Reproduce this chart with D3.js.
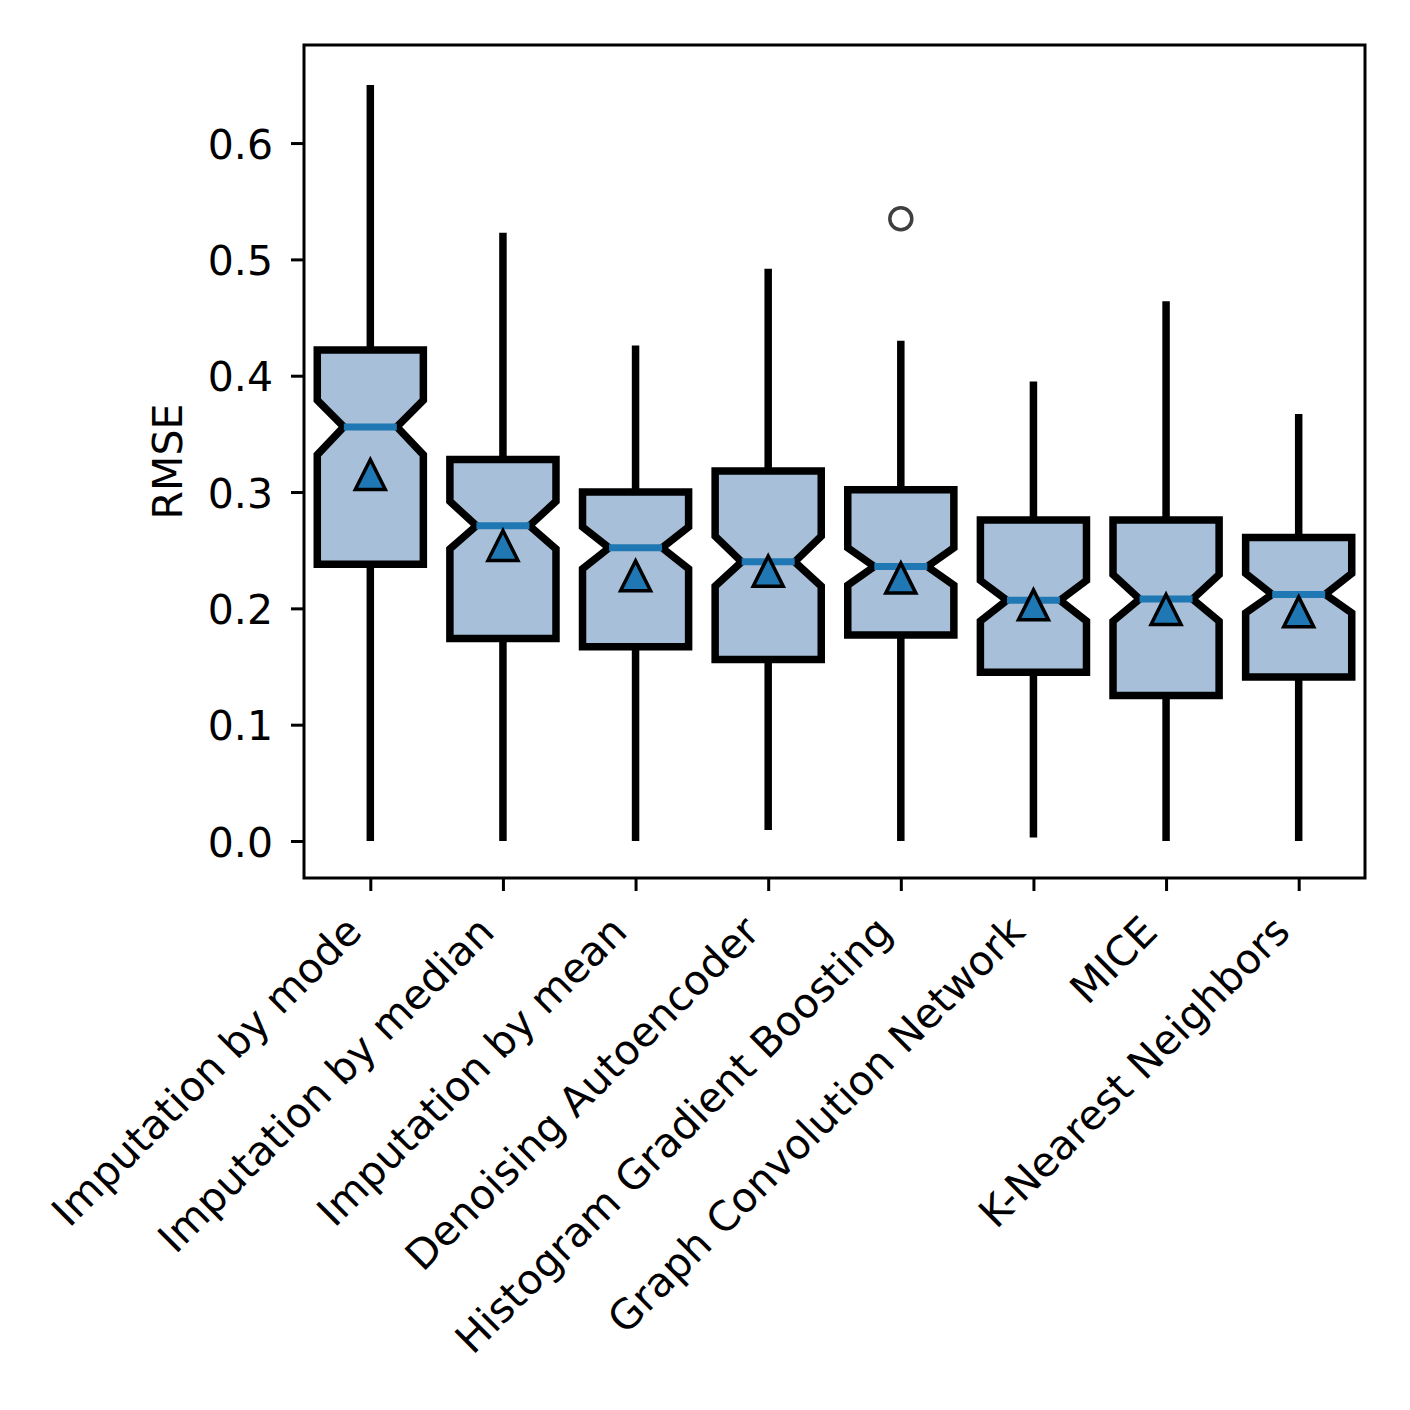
<!DOCTYPE html>
<html>
<head>
<meta charset="utf-8">
<script src="https://cdn.jsdelivr.net/npm/d3@7"></script>
<style>
  body { margin: 0; background: #fff; }
  text { font-family: "DejaVu Sans", sans-serif; fill: #000; }
</style>
</head>
<body>
<svg id="chart" width="1410" height="1410"></svg>
<script>
// values
const methods = [
  "Imputation by mode",
  "Imputation by median",
  "Imputation by mean",
  "Denoising Autoencoder",
  "Histogram Gradient Boosting",
  "Graph Convolution Network",
  "MICE",
  "K-Nearest Neighbors"
];
const q1      = [0.238, 0.174, 0.167, 0.156, 0.177, 0.145, 0.125, 0.141];
const q3      = [0.422, 0.328, 0.300, 0.318, 0.302, 0.276, 0.276, 0.261];
const medians = [0.356, 0.271, 0.252, 0.240, 0.236, 0.207, 0.208, 0.212];
const notchLo = [0.332, 0.251, 0.234, 0.219, 0.220, 0.189, 0.189, 0.196];
const notchHi = [0.379, 0.292, 0.270, 0.262, 0.252, 0.224, 0.229, 0.230];
const means   = [0.315, 0.254, 0.228, 0.232, 0.226, 0.203, 0.199, 0.197];
const whiskLo = [0.000, 0.000, 0.000, 0.0095, 0.000, 0.003, 0.000, 0.000];
const whiskHi = [0.650, 0.523, 0.426, 0.492, 0.430, 0.395, 0.464, 0.367];
const outliers = [[], [], [], [], [0.535], [], [], []];
const yTicks = [0.0, 0.1, 0.2, 0.3, 0.4, 0.5, 0.6];

const plotLeft = 304, plotRight = 1365, plotTop = 45, plotBottom = 878;
const boxWidth = 0.8;

const svg = d3.select("#chart");

const x = d3.scaleLinear().domain([0.5, methods.length + 0.5]).range([plotLeft, plotRight]);
const y = d3.scaleLinear().domain([-0.0318, 0.6843]).range([plotBottom, plotTop]);

const data = methods.map((m, i) => ({
  name: m, pos: i + 1,
  q1: q1[i], q3: q3[i], med: medians[i], nlo: notchLo[i], nhi: notchHi[i],
  mean: means[i], lo: whiskLo[i], hi: whiskHi[i], out: outliers[i]
}));

const g = svg.append("g");

// whiskers
g.selectAll(".whisk-lo").data(data).enter().append("line")
  .attr("x1", d => x(d.pos)).attr("x2", d => x(d.pos))
  .attr("y1", d => y(d.q1)).attr("y2", d => y(d.lo))
  .attr("stroke", "#000").attr("stroke-width", 7.5);
g.selectAll(".whisk-hi").data(data).enter().append("line")
  .attr("x1", d => x(d.pos)).attr("x2", d => x(d.pos))
  .attr("y1", d => y(d.q3)).attr("y2", d => y(d.hi))
  .attr("stroke", "#000").attr("stroke-width", 7.5);

// notched boxes
function notchPath(d) {
  const l = x(d.pos - boxWidth / 2), r = x(d.pos + boxWidth / 2);
  const nl = x(d.pos - boxWidth / 4), nr = x(d.pos + boxWidth / 4);
  const pts = [
    [l, y(d.q1)], [l, y(d.nlo)], [nl, y(d.med)], [l, y(d.nhi)], [l, y(d.q3)],
    [r, y(d.q3)], [r, y(d.nhi)], [nr, y(d.med)], [r, y(d.nlo)], [r, y(d.q1)]
  ];
  return "M" + pts.map(p => p.join(",")).join("L") + "Z";
}
g.selectAll(".box").data(data).enter().append("path")
  .attr("d", notchPath)
  .attr("fill", "#a7bfd8")
  .attr("stroke", "#000")
  .attr("stroke-width", 7.5)
  .attr("stroke-linejoin", "miter");

// medians
g.selectAll(".median").data(data).enter().append("line")
  .attr("x1", d => x(d.pos - boxWidth / 4)).attr("x2", d => x(d.pos + boxWidth / 4))
  .attr("y1", d => y(d.med)).attr("y2", d => y(d.med))
  .attr("stroke", "#1f77b4").attr("stroke-width", 7);

// means
g.selectAll(".mean").data(data).enter().append("path")
  .attr("d", "M0,-15L15,15L-15,15Z")
  .attr("transform", d => `translate(${x(d.pos)},${y(d.mean)})`)
  .attr("fill", "#1f77b4").attr("stroke", "#000").attr("stroke-width", 3.5)
  .attr("stroke-linejoin", "miter");

// fliers
const fl = data.flatMap(d => d.out.map(v => ({ pos: d.pos, v })));
g.selectAll(".flier").data(fl).enter().append("circle")
  .attr("cx", d => x(d.pos)).attr("cy", d => y(d.v)).attr("r", 11)
  .attr("fill", "none").attr("stroke", "#3f3f3f").attr("stroke-width", 3.5);

// axes
const yAxis = d3.axisLeft(y).tickValues(yTicks).tickFormat(d3.format(".1f"))
  .tickSize(13).tickPadding(18);
const ya = svg.append("g").attr("transform", `translate(${plotLeft},0)`).call(yAxis);
ya.select(".domain").remove();
ya.selectAll(".tick line").attr("stroke", "#000").attr("stroke-width", 3);
ya.selectAll(".tick text").attr("font-size", 41).attr("dy", "0.37em")
  .style("font-family", "DejaVu Sans");

const xAxis = d3.axisBottom(x).tickValues(data.map(d => d.pos))
  .tickFormat(p => methods[p - 1]).tickSize(13);
const xa = svg.append("g").attr("transform", `translate(0,${plotBottom})`).call(xAxis);
xa.select(".domain").remove();
xa.selectAll(".tick line").attr("stroke", "#000").attr("stroke-width", 3);
xa.selectAll(".tick text")
  .attr("font-size", 41).attr("x", 0).attr("y", 0).attr("dy", 0)
  .attr("text-anchor", "end")
  .attr("transform", "translate(-7,56) rotate(-45)")
  .style("font-family", "DejaVu Sans");

// frame
svg.append("rect")
  .attr("x", plotLeft).attr("y", plotTop)
  .attr("width", plotRight - plotLeft).attr("height", plotBottom - plotTop)
  .attr("fill", "none").attr("stroke", "#000").attr("stroke-width", 3);

svg.append("text")
  .attr("transform", `translate(182,${(plotTop + plotBottom) / 2}) rotate(-90)`)
  .attr("text-anchor", "middle")
  .attr("font-size", 41)
  .text("RMSE");
</script>
</body>
</html>
